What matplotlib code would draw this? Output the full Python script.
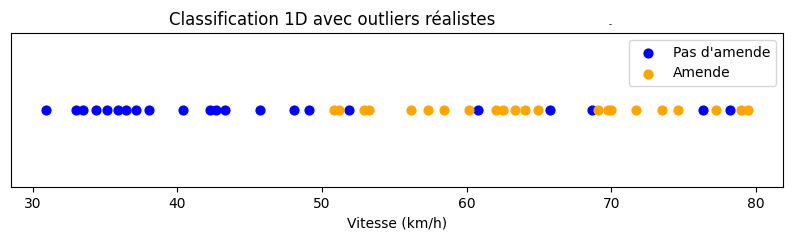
import matplotlib
matplotlib.use("Agg")
import matplotlib.pyplot as plt
import numpy as np

no_fine = [30.93, 32.98, 33.50, 34.36, 35.11, 35.91, 36.42, 37.18, 38.03, 40.39,
           42.23, 42.69, 43.27, 45.75, 48.09, 49.12, 51.88, 60.81, 65.77, 68.65,
           76.34, 78.23]
fine = [50.85, 51.19, 52.91, 53.26, 56.18, 57.33, 58.43, 60.15, 62.06, 62.49,
        63.37, 64.06, 64.93, 69.06, 69.75, 69.99, 71.68, 73.54, 74.62, 77.22,
        78.95, 79.45]
labels = ["Pas d'amende", "Amende"]
xlabel = "Vitesse (km/h)"
title = "Classification 1D avec outliers réalistes"

fig = plt.figure(figsize=(7.94, 2.4), dpi=100)
ax = fig.add_axes([11/794, 1-187/240, 772/794, 154/240])
ax.scatter(no_fine, np.zeros(len(no_fine)), color="blue", s=40, label=labels[0])
ax.scatter(fine, np.zeros(len(fine)), color="orange", s=40, label=labels[1])
ax.set_yticks([])
ax.set_xlabel(xlabel)
ax.set_title(title, x=(332-11)/772)
ax.legend(loc="upper right")
fig.text(610/794, 1-25/240, "-", fontsize=6, ha="center", va="center")
fig.savefig("out.png", dpi=100)
